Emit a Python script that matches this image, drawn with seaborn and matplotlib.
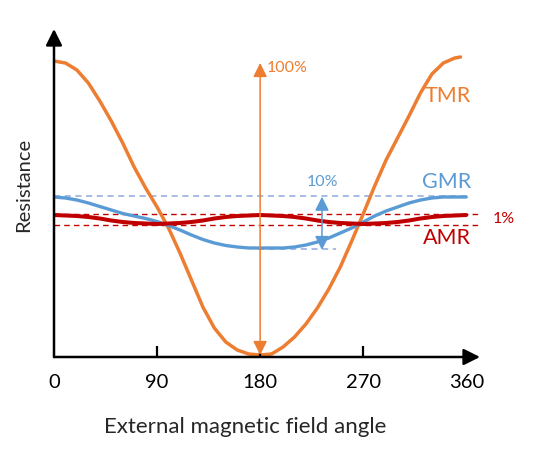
import pandas as pd
import matplotlib
matplotlib.use("Agg")
import matplotlib.pyplot as plt
import seaborn as sns

# angle (deg) and resistance (arbitrary units)
tmr_angle = [0, 10, 20, 30, 40, 50, 60, 70, 80, 90, 100, 110, 120, 130, 140, 150, 160, 170, 180,
             190, 200, 210, 220, 230, 240, 250, 260, 270, 280, 290, 300, 310, 320, 330, 340, 350, 355]
tmr_res = [296, 294, 287, 274, 256, 236, 214, 190, 169, 150, 129, 104, 77, 50, 29, 15, 7, 3, 2,
           3, 10, 20, 33, 49, 68, 90, 116, 143, 171, 197, 219, 241, 264, 283, 294, 299, 300]

gmr_angle = [0, 10, 20, 30, 40, 50, 60, 70, 80, 90, 100, 110, 120, 130, 140, 150, 160, 170, 180,
             190, 200, 210, 220, 230, 240, 250, 260, 270, 280, 290, 300, 310, 320, 330, 340, 350, 360]
gmr_res = [160, 159, 157, 154, 150.5, 147, 143.5, 141, 138.5, 135.5, 131.5, 127, 122, 117.5, 114, 111.5, 110, 109, 109,
           109, 109, 110, 112, 115, 119, 124, 129, 135, 141, 146, 150, 154, 157, 159, 160, 160, 160]

amr_angle = [0, 10, 20, 30, 40, 50, 60, 70, 80, 90, 100, 110, 120, 130, 140, 150, 160, 170, 180,
             190, 200, 210, 220, 230, 240, 250, 260, 270, 280, 290, 300, 310, 320, 330, 340, 350, 360]
amr_res = [142, 141.5, 141, 140, 138.5, 136.5, 135, 134, 133.5, 133, 133.5, 134, 135, 136.5, 138.5, 140, 141, 141.5, 142,
           141.5, 141, 140, 138.5, 136.5, 135, 134, 133.5, 133, 133.5, 134, 135, 136.5, 138.5, 140, 141, 141.5, 142]

# reference levels
gmr_high, gmr_low = 161.3, 108
amr_high, amr_low = 143, 132.5
tmr_low, tmr_high = 2, 294
ticks = [0, 90, 180, 270, 360]

ORANGE = "#ED7D31"
BLUE = "#5B9BD5"
RED = "#C00000"

sns.set_theme(style="white")
plt.rcParams["font.family"] = ["Lato", "DejaVu Sans"]

fig = plt.figure(figsize=(5.34, 4.5), dpi=100)
ax = fig.add_axes([54 / 534, 93 / 450, (480 - 54) / 534, 328 / 450])

tmr = pd.DataFrame({"angle": tmr_angle, "res": tmr_res})
gmr = pd.DataFrame({"angle": gmr_angle, "res": gmr_res})
amr = pd.DataFrame({"angle": amr_angle, "res": amr_res})

# dashed reference lines
ax.hlines([amr_high, amr_low], 0, 373, colors=RED, linestyles=(0, (4, 3)), lw=1.0, clip_on=False)
ax.hlines(gmr_high, 0, 362, colors="#8FAADC", linestyles=(0, (4, 3)), lw=1.1)
ax.hlines(gmr_low, 178, 246, colors="#8FAADC", linestyles=(0, (4, 3)), lw=1.1)

line_kw = dict(solid_joinstyle="round", solid_capstyle="round")
sns.lineplot(data=tmr, x="angle", y="res", color=ORANGE, lw=2.5, ax=ax, **line_kw)
sns.lineplot(data=gmr, x="angle", y="res", color=BLUE, lw=2.4, ax=ax, **line_kw)
sns.lineplot(data=amr, x="angle", y="res", color=RED, lw=2.9, ax=ax, **line_kw)

# range arrows
ax.annotate("", xy=(180, tmr_high), xytext=(180, tmr_low),
            arrowprops=dict(arrowstyle="<|-|>,head_length=0.6,head_width=0.3",
                            mutation_scale=14, color=ORANGE, lw=1.1,
                            shrinkA=0, shrinkB=0))
ax.annotate("", xy=(234, gmr_high - 1), xytext=(234, gmr_low - 1),
            arrowprops=dict(arrowstyle="<|-|>,head_length=0.6,head_width=0.3",
                            mutation_scale=14, color=BLUE, lw=1.1,
                            shrinkA=0, shrinkB=0))

ax.text(186, 289, "100%", color=ORANGE, fontsize=11.5, va="center", ha="left")
ax.text(234, 175, "10%", color=BLUE, fontsize=11.5, va="center", ha="center")
ax.text(383, 138, "1%", color=RED, fontsize=11.5, va="center", ha="left")
ax.text(324, 261, "TMR", color=ORANGE, fontsize=15.5, va="center", ha="left")
ax.text(321.5, 175, "GMR", color=BLUE, fontsize=15.5, va="center", ha="left")
ax.text(322, 119, "AMR", color=RED, fontsize=15.5, va="center", ha="left")

ax.set_xlim(0, 372)
ax.set_ylim(0, 328)
for s in ax.spines.values():
    s.set_visible(False)

# axes drawn as arrows
ax.annotate("", xy=(1, 0), xytext=(0, 0), xycoords="axes fraction",
            arrowprops=dict(arrowstyle="-|>,head_length=0.7,head_width=0.35",
                            mutation_scale=14, color="black", lw=1.8,
                            shrinkA=0, shrinkB=0))
ax.annotate("", xy=(0, 1), xytext=(0, 0), xycoords="axes fraction",
            arrowprops=dict(arrowstyle="-|>,head_length=0.7,head_width=0.35",
                            mutation_scale=14, color="black", lw=1.8,
                            shrinkA=0, shrinkB=0))

ax.set_xticks(ticks)
ax.set_xticklabels([str(t) for t in ticks], fontsize=14.5)
ax.set_yticks([])
ax.tick_params(axis="x", direction="in", length=0, pad=12, colors="black")
ax.vlines([90, 180, 270], 0, 11, colors="black", lw=1.6)
ax.set_xlabel("")
ax.set_ylabel("")

fig.text(245 / 534, 1 - 427 / 450, "External magnetic field angle",
         fontsize=16, ha="center", va="center")
fig.text(24 / 534, 1 - 185 / 450, "Resistance", fontsize=14.5,
         rotation=90, ha="center", va="center")

fig.savefig("out.png", dpi=100)
